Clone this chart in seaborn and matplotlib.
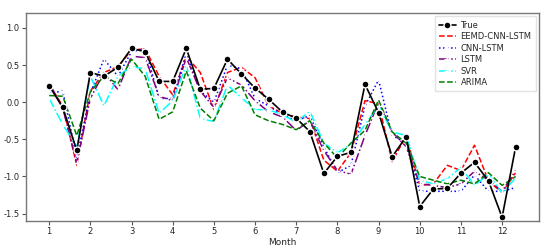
import numpy as np
import pandas as pd
import matplotlib
matplotlib.use("Agg")
import matplotlib.pyplot as plt
import seaborn as sns

# month positions: three samples per month, from 1 to 12.33
months = [1, 1.33, 1.67, 2, 2.33, 2.67, 3, 3.33, 3.67, 4, 4.33, 4.67,
          5, 5.33, 5.67, 6, 6.33, 6.67, 7, 7.33, 7.67, 8, 8.33, 8.67,
          9, 9.33, 9.67, 10, 10.33, 10.67, 11, 11.33, 11.67, 12, 12.33]

true_vals = [0.22, -0.07, -0.65, 0.40, 0.35, 0.47, 0.725, 0.68, 0.28, 0.28, 0.725, 0.175,
             0.185, 0.58, 0.38, 0.19, 0.04, -0.135, -0.215, -0.395, -0.96, -0.73, -0.675, 0.24,
             -0.14, -0.735, -0.465, -1.405, -1.17, -1.16, -0.955, -0.81, -1.06, -1.55, -0.60]

eemd_cnn_lstm = [0.24, -0.05, -0.85, 0.15, 0.40, 0.48, 0.70, 0.72, 0.35, 0.10, 0.62, 0.40,
                 -0.10, 0.40, 0.47, 0.33, -0.05, -0.15, -0.20, -0.22, -0.78, -0.93, -0.68, 0.02,
                 -0.02, -0.80, -0.45, -1.12, -1.10, -0.85, -0.92, -0.58, -1.06, -1.22, -0.95]

cnn_lstm = [0.12, 0.15, -0.75, 0.12, 0.58, 0.35, 0.68, 0.72, 0.05, 0.05, 0.66, 0.15,
            0.00, 0.50, 0.45, 0.05, -0.05, -0.17, -0.25, -0.18, -0.60, -0.95, -0.85, -0.05,
            0.30, -0.45, -0.55, -1.20, -1.20, -1.20, -1.20, -0.98, -1.20, -1.20, -1.15]

lstm = [0.26, -0.08, -0.82, 0.05, 0.40, 0.17, 0.62, 0.60, 0.08, 0.02, 0.60, 0.15,
        -0.07, 0.33, 0.23, 0.02, -0.13, -0.20, -0.38, -0.25, -0.65, -0.92, -0.97, -0.45,
        0.00, -0.40, -0.60, -1.10, -1.12, -1.15, -1.10, -0.93, -1.05, -1.20, -0.92]

svr = [0.05, -0.30, -0.60, 0.35, -0.05, 0.35, 0.48, 0.45, -0.15, 0.02, 0.50, -0.22,
       -0.26, 0.23, 0.06, -0.10, -0.10, -0.17, -0.27, -0.12, -0.55, -0.68, -0.57, -0.30,
       -0.05, -0.40, -0.45, -1.05, -1.10, -1.03, -0.88, -1.12, -0.97, -1.22, -1.02]

arima = [0.09, 0.08, -0.45, 0.14, 0.35, 0.25, 0.58, 0.35, -0.23, -0.13, 0.42, -0.08,
         -0.25, 0.12, 0.22, -0.17, -0.25, -0.30, -0.37, -0.25, -0.55, -0.75, -0.55, -0.38,
         0.03, -0.40, -0.55, -1.00, -1.05, -1.10, -1.05, -1.10, -0.95, -1.12, -1.00]

series_names = ["True", "EEMD-CNN-LSTM", "CNN-LSTM", "LSTM", "SVR", "ARIMA"]
series_vals = [true_vals, eemd_cnn_lstm, cnn_lstm, lstm, svr, arima]

sns.set_style("white")
plt.rcParams["font.family"] = ["DejaVu Sans"]
plt.rcParams["axes.unicode_minus"] = False

styles = {
    "True": dict(color="black", linestyle="-", marker="o", markersize=5, linewidth=1.2),
    "EEMD-CNN-LSTM": dict(color="red", linestyle="--", marker="", linewidth=1.1),
    "CNN-LSTM": dict(color="blue", linestyle=":", marker="+", markersize=4, linewidth=1.1),
    "LSTM": dict(color="purple", linestyle="-.", marker="+", markersize=4, linewidth=1.1),
    "SVR": dict(color="cyan", linestyle="-.", marker="+", markersize=4, linewidth=1.1),
    "ARIMA": dict(color="green", linestyle="--", marker="", linewidth=1.1),
}

fig, ax = plt.subplots(figsize=(5.5, 2.52), dpi=100)
fig.subplots_adjust(left=0.047, right=0.98, top=0.948, bottom=0.123)

# draw order: predictions first, true on top
for name, vals in list(zip(series_names, series_vals))[1:] + [(series_names[0], series_vals[0])]:
    sns.lineplot(x=months, y=vals, ax=ax, label=name, markeredgewidth=1.0, **styles[name])

handles, labels = ax.get_legend_handles_labels()
order = [labels.index(n) for n in series_names]
ax.legend([handles[i] for i in order], [labels[i] for i in order],
          loc="upper right", fontsize=6, frameon=True, fancybox=False,
          edgecolor="#dddddd", borderpad=0.5, labelspacing=0.3, handlelength=2.0,
          handletextpad=0.6, borderaxespad=0.4)

ax.set_ylim(-1.6, 1.2)
ax.set_xticks(range(1, 13))
ax.set_yticks([-1.5, -1.0, -0.5, 0.0, 0.5, 1.0])
ax.set_xlabel("Month", fontsize=6.5, labelpad=1)
ax.tick_params(axis="both", labelsize=6, length=3, direction="out", color="#555555",
               bottom=True, left=True, pad=1.5)
for sp in ax.spines.values():
    sp.set_color("#777777")
    sp.set_linewidth(1.0)

fig.savefig("out.png", dpi=100)
